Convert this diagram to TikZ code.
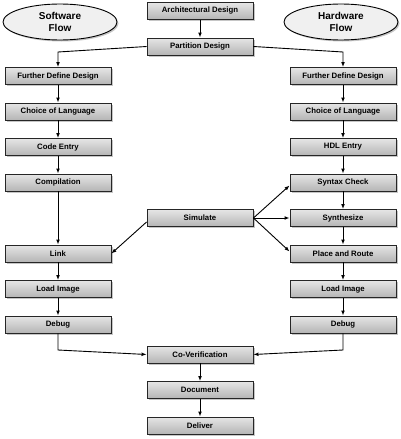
\documentclass[tikz,border=0pt]{standalone}
\usepackage{fontspec}
\setmainfont{Liberation Sans}
\usetikzlibrary{arrows.meta,shadows,shapes.geometric}

\begin{document}
\begin{tikzpicture}[x=1pt, y=-1pt,
    flowbox/.style={draw=black!85, line width=0.9pt, top color=gray!20, bottom color=gray!58,
        minimum width=106pt, minimum height=17pt, inner sep=0pt,
        font=\fontsize{7.8}{9}\selectfont\bfseries,
        drop shadow={shadow xshift=1.5pt, shadow yshift=-1.5pt, opacity=0.45}},
    flowcap/.style={ellipse, draw=black, line width=0.9pt, fill=gray!12,
        minimum width=114pt, minimum height=36pt, inner sep=0pt, align=center,
        font=\fontsize{10}{11.5}\selectfont\bfseries,
        drop shadow={shadow xshift=1.5pt, shadow yshift=-1.5pt, opacity=0.45}},
    link/.style={-{Latex[length=5pt,width=3.8pt]}, line width=0.9pt}]
    \useasboundingbox (0, 0) rectangle (400, 439);
    % Flow titles
    \node [flowcap] (swtitle) at (60, 22) {Software\\Flow};
    \node [flowcap] (hwtitle) at (341, 22) {Hardware\\Flow};
    % Common start
    \node [flowbox] (arch) at (200, 11) {Architectural Design};
    \node [flowbox] (part) at (200, 46.5) {Partition Design};
    \draw [link] (arch) -- (part);
    % Software flow
    \node [flowbox] (sfdd) at (58, 76) {Further Define Design};
    \node [flowbox] (scol) at (58, 111.5) {Choice of Language};
    \node [flowbox] (scode) at (58, 147) {Code Entry};
    \node [flowbox] (scomp) at (58, 182.5) {Compilation};
    \node [flowbox] (slink) at (58, 253.5) {Link};
    \node [flowbox] (sload) at (58, 289) {Load Image};
    \node [flowbox] (sdebug) at (58, 324.5) {Debug};
    \coordinate (swbend) at (58, 52);
    \draw [link] (part.west) -- (swbend) -- (sfdd.north);
    \draw [link] (sfdd) -- (scol);
    \draw [link] (scol) -- (scode);
    \draw [link] (scode) -- (scomp);
    \draw [link] (scomp) -- (slink);
    \draw [link] (slink) -- (sload);
    \draw [link] (sload) -- (sdebug);
    % Hardware flow
    \node [flowbox] (hfdd) at (343, 76) {Further Define Design};
    \node [flowbox] (hcol) at (343, 111.5) {Choice of Language};
    \node [flowbox] (hhdl) at (343, 147) {HDL Entry};
    \node [flowbox] (hsyn) at (343, 182.5) {Syntax Check};
    \node [flowbox] (hsynth) at (343, 218) {Synthesize};
    \node [flowbox] (hpar) at (343, 253.5) {Place and Route};
    \node [flowbox] (hload) at (343, 289) {Load Image};
    \node [flowbox] (hdebug) at (343, 324.5) {Debug};
    \coordinate (hwbend) at (343, 52);
    \draw [link] (part.east) -- (hwbend) -- (hfdd.north);
    \draw [link] (hfdd) -- (hcol);
    \draw [link] (hcol) -- (hhdl);
    \draw [link] (hhdl) -- (hsyn);
    \draw [link] (hsyn) -- (hsynth);
    \draw [link] (hsynth) -- (hpar);
    \draw [link] (hpar) -- (hload);
    \draw [link] (hload) -- (hdebug);
    % Simulation
    \node [flowbox] (sim) at (200, 218) {Simulate};
    \draw [link] (sim.east) -- ([yshift=-3pt]hsyn.west);
    \draw [link] (sim.east) -- (hsynth.west);
    \draw [link] (sim.east) -- ([yshift=2pt]hpar.west);
    \draw [link] ([yshift=-4pt]sim.west) -- (slink.east);
    % Common end
    \node [flowbox] (cover) at (200, 354.5) {Co-Verification};
    \node [flowbox] (doc) at (200, 390) {Document};
    \node [flowbox] (deliver) at (200, 425.5) {Deliver};
    \coordinate (swjoin) at (58, 350);
    \coordinate (hwjoin) at (343, 350);
    \draw [link] (sdebug.south) -- (swjoin) -- (cover.west);
    \draw [link] (hdebug.south) -- (hwjoin) -- (cover.east);
    \draw [link] (cover) -- (doc);
    \draw [link] (doc) -- (deliver);
\end{tikzpicture}
\end{document}
